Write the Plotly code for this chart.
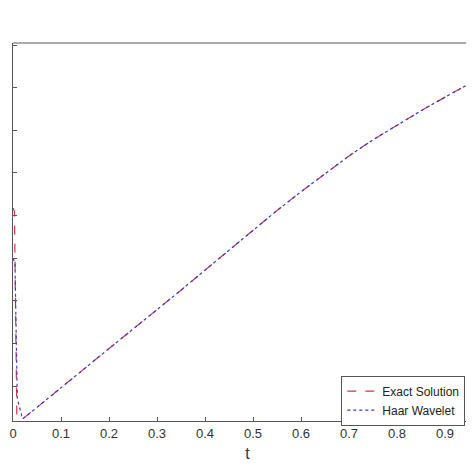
import plotly.graph_objects as go

t_exact = [0.0, 0.003, 0.008, 0.02, 0.05, 0.1, 0.15, 0.2, 0.25, 0.3, 0.35, 0.4, 0.45, 0.5, 0.55, 0.6, 0.65, 0.7, 0.75, 0.8, 0.85, 0.9, 0.96, 1.0]
y_exact = [4.18, 4.1, -0.7, -0.77, -0.5, -0.05, 0.42, 0.88, 1.33, 1.79, 2.25, 2.72, 3.19, 3.66, 4.12, 4.56, 4.99, 5.40, 5.78, 6.13, 6.46, 6.78, 7.16, 7.40]
t_haar = [0.0, 0.004, 0.009, 0.02, 0.05, 0.1, 0.15, 0.2, 0.25, 0.3, 0.35, 0.4, 0.45, 0.5, 0.55, 0.6, 0.65, 0.7, 0.75, 0.8, 0.85, 0.9, 0.96, 1.0]
y_haar = [3.0, 2.9, -0.3, -0.77, -0.5, -0.05, 0.42, 0.88, 1.33, 1.79, 2.25, 2.72, 3.19, 3.66, 4.12, 4.56, 4.99, 5.40, 5.78, 6.13, 6.46, 6.78, 7.16, 7.40]
x_ticks = [0, 0.1, 0.2, 0.3, 0.4, 0.5, 0.6, 0.7, 0.8, 0.9]
x_labels = ["0", "0.1", "0.2", "0.3", "0.4", "0.5", "0.6", "0.7", "0.8", "0.9"]
y_ticks = [0, 1, 2, 3, 4, 5, 6, 7, 8]

fig = go.Figure()
fig.add_trace(go.Scatter(x=t_exact, y=y_exact, mode="lines", name="Exact Solution",
                         line=dict(color="#d9304a", width=1.2, dash="dash")))
fig.add_trace(go.Scatter(x=t_haar, y=y_haar, mode="lines", name="Haar Wavelet",
                         line=dict(color="#3a3ac8", width=1.2, dash="dot")))
fig.update_layout(
    width=474, height=474, paper_bgcolor="white", plot_bgcolor="white",
    margin=dict(l=5, r=0, t=35, b=61, autoexpand=False),
    font=dict(family="Liberation Sans, Arial", size=13, color="#333"),
    showlegend=True,
    legend=dict(x=0.70, y=0.12, xanchor="left", yanchor="top", bgcolor="white",
                bordercolor="#555", borderwidth=1, font=dict(size=12, color="#222"),
                tracegroupgap=0),
    xaxis=dict(range=[0, 0.977], tickvals=x_ticks, ticktext=x_labels, ticks="inside",
               ticklen=4, tickcolor="#555", showline=True, linecolor="#555", showgrid=False,
               zeroline=False, title=dict(text="t", standoff=8)),
    yaxis=dict(range=[-0.82, 8.05], tickvals=y_ticks, showticklabels=False, ticks="inside",
               ticklen=4, tickcolor="#555", showline=True, linecolor="#555", showgrid=False,
               zeroline=False),
    shapes=[dict(type="line", xref="paper", yref="paper", x0=0, x1=1, y0=1, y1=1,
                 line=dict(color="#555", width=1))],
)
fig.write_html("out.html")
